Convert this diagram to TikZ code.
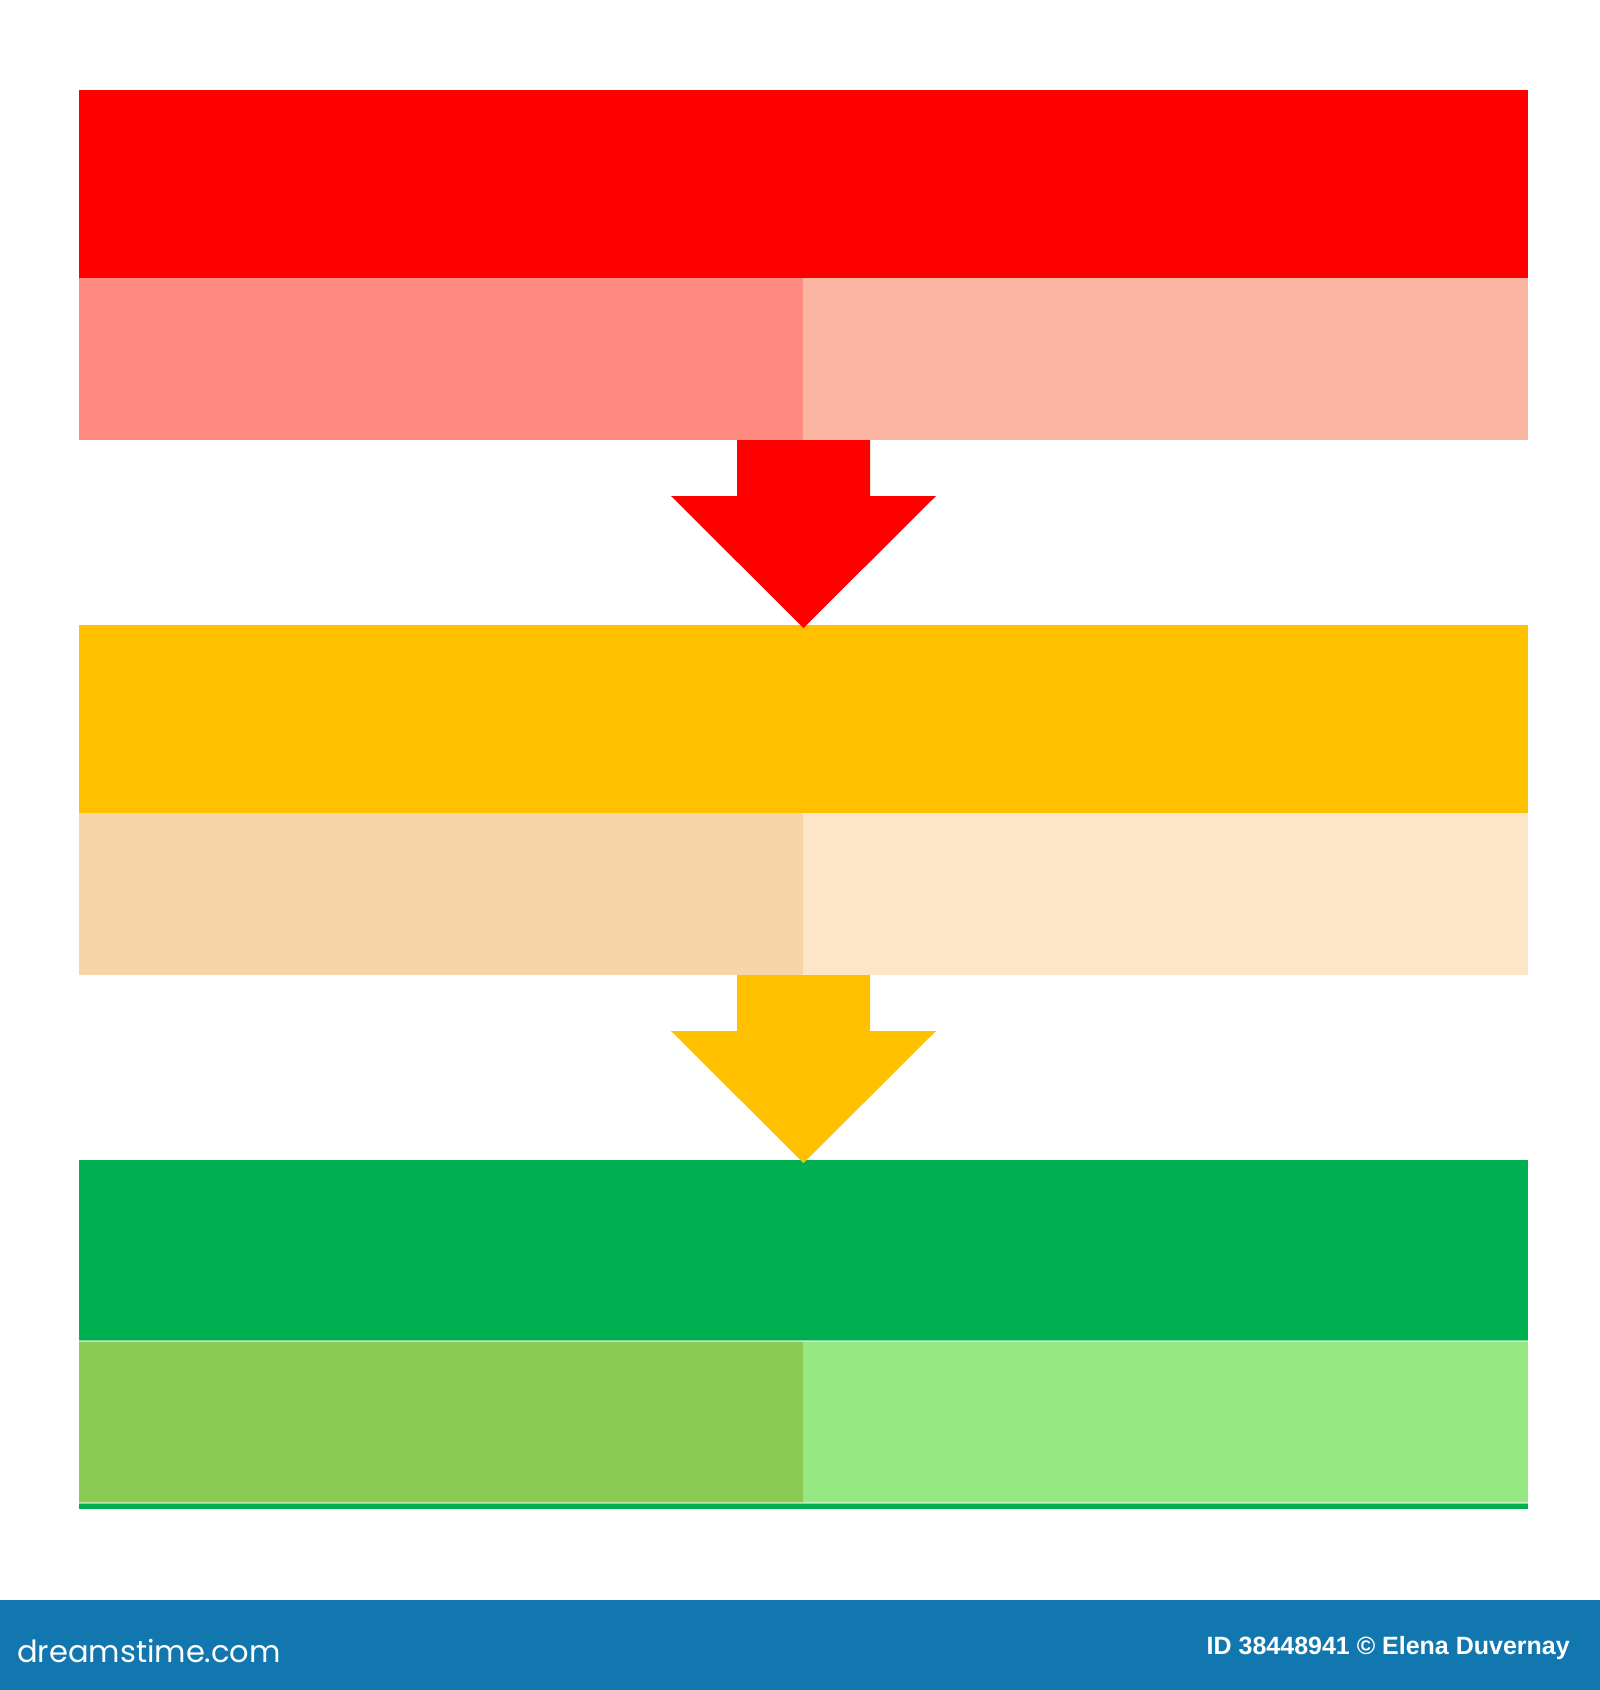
\documentclass[tikz,border=0pt]{standalone}
\usepackage{fontspec}
\newfontfamily\logofont{Poppins}
\newfontfamily\idfont{Liberation Sans}
\usetikzlibrary{calc}
\definecolor{cRed}{HTML}{FF0000}
\definecolor{cRedA}{HTML}{FF8A80}
\definecolor{cRedB}{HTML}{FAB5A3}
\definecolor{cYel}{HTML}{FFC000}
\definecolor{cYelA}{HTML}{F8D5A8}
\definecolor{cYelB}{HTML}{FDE5C8}
\definecolor{cGrn}{HTML}{00AF50}
\definecolor{cGrnA}{HTML}{8BCB53}
\definecolor{cGrnB}{HTML}{96E882}
\definecolor{cFoot}{HTML}{1177AE}
\begin{document}
\begin{tikzpicture}[x=1pt,y=-1pt,
  cell/.style={rectangle, inner sep=0pt, outer sep=0pt, anchor=north west, draw=none},
  bigbar/.style={cell, minimum width=1449pt},
  halfL/.style={cell, minimum width=724pt, minimum height=162pt},
  halfR/.style={cell, minimum width=725pt, minimum height=162pt},
  footertext/.style={text=white, inner sep=0pt}]
\useasboundingbox (0,0) rectangle (1600,1690);
\fill[white] (0,0) rectangle (1600,1690);
% red block
\node[bigbar, fill=cRed, minimum height=188pt] (redtop) at (79,90) {};
\node[halfL, fill=cRedA] (redL) at (79,278) {};
\node[halfR, fill=cRedB] (redR) at (803,278) {};
% yellow block
\node[bigbar, fill=cYel, minimum height=188pt] (yeltop) at (79,625) {};
\node[halfL, fill=cYelA] (yelL) at (79,813) {};
\node[halfR, fill=cYelB] (yelR) at (803,813) {};
% green block
\node[bigbar, fill=cGrn, minimum height=181pt] (grntop) at (79,1160) {};
\node[halfL, fill=cGrnA] (grnL) at (79,1341) {};
\node[halfR, fill=cGrnB] (grnR) at (803,1341) {};
\node[bigbar, fill=cGrn, minimum height=6pt] (grnline) at (79,1503) {};
\draw[white, opacity=0.5, line width=1.2pt] (grnL.north west) -- (grnR.north east);
\draw[white, opacity=0.5, line width=1.2pt] (grnL.south west) -- (grnR.south east);
% arrows
\coordinate (a1) at ($(redL.south east)+(0.5,0)$);
\coordinate (a2) at ($(yelL.south east)+(0.5,0)$);
\fill[cRed] (a1) ++(-66.5,0) -- ++(0,56) -- ++(-66,0) -- ($(a1)+(0,188)$) -- ++(132.5,-132) -- ++(-66,0) -- ++(0,-56) -- cycle;
\fill[cYel] (a2) ++(-66.5,0) -- ++(0,56) -- ++(-66,0) -- ($(a2)+(0,188)$) -- ++(132.5,-132) -- ++(-66,0) -- ++(0,-56) -- cycle;
% footer
\fill[cFoot] (0,1600) rectangle (1600,1690);
\node[footertext, anchor=base west, font=\logofont\fontsize{30.5}{30.5}\selectfont] (logo) at (17,1662) {dreamstime.com};
\node[footertext, anchor=base east, font=\idfont\bfseries\fontsize{25}{25}\selectfont] (credit) at (1570,1654) {ID 38448941 © Elena Duvernay};
\end{tikzpicture}
\end{document}
